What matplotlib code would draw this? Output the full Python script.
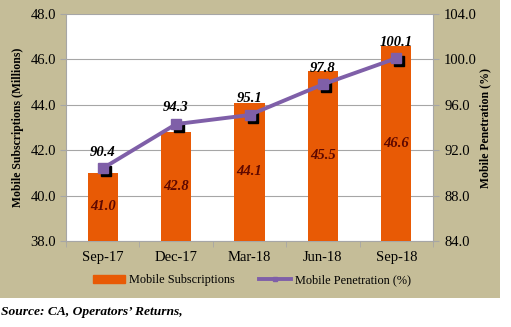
import matplotlib
matplotlib.use("Agg")
import matplotlib.pyplot as plt
import matplotlib.transforms as mtransforms
from matplotlib.lines import Line2D
from matplotlib.patches import Patch
import numpy as np

plt.rcParams['font.family'] = ['Liberation Serif', 'DejaVu Serif']

# Data
quarters = ["Sep-17", "Dec-17", "Mar-18", "Jun-18", "Sep-18"]
subscriptions = [41.0, 42.8, 44.1, 45.5, 46.6]
penetration = [90.4, 94.3, 95.1, 97.8, 100.1]

tan = "#c5bd98"
orange = "#e85a05"
purple = "#7f5fa8"
grid_c = "#a6a6a6"

fig = plt.figure(figsize=(5.11, 3.27), dpi=100)
fig.patch.set_facecolor("white")

# tan panel behind the chart
bg = fig.add_axes([0, 1 - 298 / 327, 500 / 511, 298 / 327])
bg.set_facecolor(tan)
bg.set_xticks([])
bg.set_yticks([])
for s in bg.spines.values():
    s.set_visible(False)
bg.set_zorder(-5)

# plot area
left, right, top, bottom = 66, 433, 14, 241
ax = fig.add_axes([left / 511, 1 - bottom / 327, (right - left) / 511, (bottom - top) / 327])
ax.set_facecolor("white")
x = np.arange(len(quarters))

ax.bar(x, subscriptions, width=0.41, color=orange, zorder=3)
ax.set_ylim(38, 48)
ax.set_xlim(-0.5, len(quarters) - 0.5)
ax.set_yticks(np.arange(38, 48.1, 2))
ax.set_yticklabels([f"{v:.1f}" for v in np.arange(38, 48.1, 2)], fontsize=10.5)
ax.grid(axis="y", color=grid_c, linewidth=0.8, zorder=0)
ax.set_axisbelow(True)
ax.set_xticks(x)
ax.set_xticklabels(quarters, fontsize=10.5)
ax.set_xticks(np.arange(-0.5, len(quarters), 1), minor=True)
ax.tick_params(axis="x", which="major", length=0, pad=7)
ax.tick_params(axis="x", which="minor", length=4, color=grid_c)
ax.tick_params(axis="y", length=4, color=grid_c, pad=3)
ax.spines["top"].set_visible(False)
for s in ["left", "bottom", "right"]:
    ax.spines[s].set_color(grid_c)
ax.set_ylabel("Mobile Subscriptions (Millions)", fontsize=8.5, fontweight="bold", labelpad=5)

for xi, v in zip(x, subscriptions):
    ax.text(xi, 38 + (v - 38) / 2, f"{v:.1f}", ha="center", va="center",
            fontsize=10.5, fontweight="bold", style="italic", color="#5e0800", zorder=5)

# secondary axis
ax2 = ax.twinx()
ax2.set_ylim(84, 104)
ax2.set_yticks(np.arange(84, 104.1, 4))
ax2.set_yticklabels([f"{v:.1f}" for v in np.arange(84, 104.1, 4)], fontsize=10.5)
ax2.tick_params(axis="y", length=4, color=grid_c, pad=4)
for s in ax2.spines.values():
    s.set_visible(False)
ax2.set_ylabel("Mobile Penetration (%)", fontsize=8.5, fontweight="bold", labelpad=2)

shadow = mtransforms.offset_copy(ax2.transData, fig=fig, x=3, y=-3, units="dots")
ax2.plot(x, penetration, linestyle="none", marker="s", markersize=7,
         color="black", transform=shadow, zorder=4)
ax2.plot(x, penetration, color=purple, linewidth=2.8, marker="s", markersize=7, zorder=5)
for xi, v in zip(x, penetration):
    ax2.annotate(f"{v:.1f}", (xi, v), xytext=(0, 7), textcoords="offset points",
                 ha="center", va="bottom", fontsize=10.5, fontweight="bold",
                 style="italic", color="black")

handles = [Patch(color=orange),
           Line2D([0], [0], color=purple, linewidth=2.8, marker="s", markersize=3)]
fig.legend(handles, ["Mobile Subscriptions", "Mobile Penetration (%)"],
           loc="center", bbox_to_anchor=(252 / 511, 1 - 280 / 327), ncol=2,
           frameon=False, fontsize=8.8, handlelength=2.6, handleheight=0.6,
           columnspacing=2.0, handletextpad=0.3)

fig.text(1 / 511, 1 - 312 / 327, "Source: CA, Operators\u2019 Returns,", fontsize=9.7,
         fontweight="bold", style="italic", va="center", ha="left")

fig.savefig("out.png", dpi=100)
